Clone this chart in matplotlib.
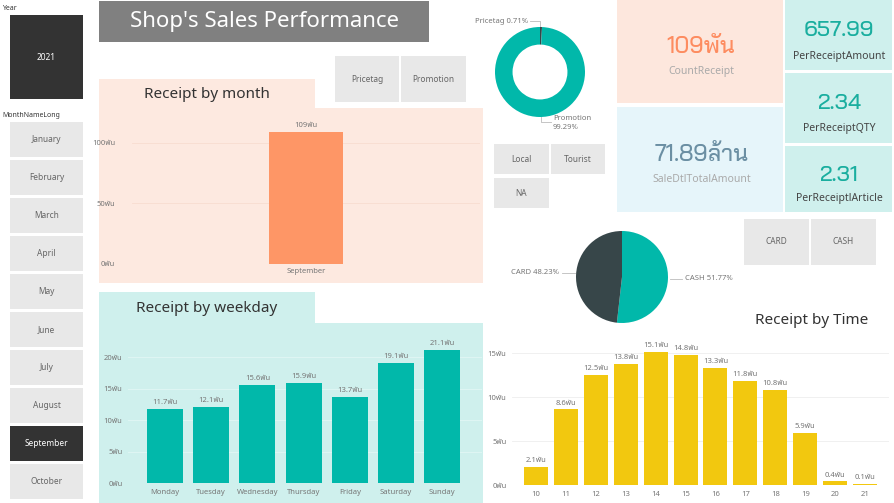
"""Shop's Sales Performance dashboard, rebuilt as a single matplotlib figure."""

import matplotlib
matplotlib.use("Agg")
import matplotlib.pyplot as plt
from matplotlib import font_manager
from matplotlib.patches import Rectangle

# ---- data -------------------------------------------------------------
year = "2021"
months = ["January", "February", "March", "April", "May",
          "June", "July", "August", "September", "October"]
selected_month = "September"

month_cats = ["September"]
month_receipts = [109]          # thousands

weekdays = ["Monday", "Tuesday", "Wednesday", "Thursday",
            "Friday", "Saturday", "Sunday"]
weekday_receipts = [11.7, 12.1, 15.6, 15.9, 13.7, 19.1, 21.1]

hours = ["10", "11", "12", "13", "14", "15", "16", "17", "18", "19", "20", "21"]
hour_receipts = [2.1, 8.6, 12.5, 13.8, 15.1, 14.8, 13.3, 11.8, 10.8, 5.9, 0.4, 0.1]

price_types = ["Pricetag", "Promotion"]
price_share = [0.71, 99.29]

pay_types = ["CASH", "CARD"]
pay_share = [51.77, 48.23]

kpi_count = "109พัน"
kpi_total = "71.89ล้าน"
kpi_amount = "657.99"
kpi_qty = "2.34"
kpi_article = "2.31"

# ---- fonts ------------------------------------------------------------
names = {f.name for f in font_manager.fontManager.ttflist}
thai = next((n for n in ["Noto Sans Thai", "Noto Sans Thai UI", "Sarabun",
                         "Prompt", "Kanit", "Bai Jamjuree"] if n in names),
            "DejaVu Sans")
kpi_font = "Bai Jamjuree" if "Bai Jamjuree" in names else thai
plt.rcParams["font.family"] = ["Noto Sans", thai, "DejaVu Sans"]

# ---- colours ----------------------------------------------------------
TEAL = "#01B8AA"
DARK = "#374649"
ORANGE = "#FE9666"
YELLOW = "#F2C80F"
PEACH = "#FDE9E0"
MINT = "#CFF0ED"
SKY = "#E6F5FA"
BTN = "#E8E8E8"
SEL = "#333333"
GREY_TXT = "#777777"

W, H = 894, 503
fig = plt.figure(figsize=(W / 100, H / 100), dpi=100)


def rect(x, y, w, h):
    """Pixel box (top-left origin) -> figure fraction rect."""
    return [x / W, 1 - (y + h) / H, w / W, h / H]


bg = fig.add_axes([0, 0, 1, 1], zorder=0)
bg.set_xlim(0, W)
bg.set_ylim(H, 0)
bg.axis("off")


def box(x, y, w, h, color, label=None, tcolor="#666666", size=6):
    bg.add_patch(Rectangle((x, y), w, h, facecolor=color, edgecolor="none"))
    if label:
        bg.text(x + w / 2, y + h / 2, label, ha="center", va="center",
                color=tcolor, fontsize=size)


# ---- slicers ----------------------------------------------------------
bg.text(2, 8, "Year", fontsize=5, color="#333333", va="center")
box(10, 15, 73, 84, SEL, year, "white", 6)
bg.text(2, 115, "MonthNameLong", fontsize=5, color="#333333", va="center")
for i, m in enumerate(months):
    on = m == selected_month
    box(10, 122 + 38 * i, 73, 35, SEL if on else BTN, m,
        "white" if on else "#666666", 6)

# title
box(99, 1, 330, 41, "#808080")
bg.text(264, 21, "Shop's Sales Performance", ha="center", va="center",
        color="white", fontsize=16, fontweight="light")

box(335, 56, 64, 46, BTN, price_types[0])
box(401, 56, 65, 46, BTN, price_types[1])
box(494, 144, 55, 30, BTN, "Local")
box(551, 144, 54, 30, BTN, "Tourist")
box(494, 178, 55, 30, BTN, "NA")
box(744, 219, 65, 46, BTN, "CARD")
box(811, 219, 65, 46, BTN, "CASH")

# panels
box(99, 79, 216, 30, PEACH)
box(99, 108, 384, 175, PEACH)
bg.text(207, 94, "Receipt by month", ha="center", va="center",
        fontsize=11, color="#333333")
box(99, 292, 216, 32, MINT)
box(99, 323, 384, 180, MINT)
bg.text(207, 308, "Receipt by weekday", ha="center", va="center",
        fontsize=11, color="#333333")
bg.text(812, 321, "Receipt by Time", ha="center", va="center",
        fontsize=11, color="#333333")

# KPI cards
box(617, 0, 166, 103, "#FDE7DD")
bg.text(701, 47, kpi_count, ha="center", va="center", fontsize=16.5,
        color="#FD8C60", family=[kpi_font, thai], fontweight="medium")
bg.text(701, 71, "CountReceipt", ha="center", va="center", fontsize=7.5,
        color="#AAAAAA")
box(617, 107, 166, 105, SKY)
bg.text(702, 155, kpi_total, ha="center", va="center", fontsize=16.5,
        color="#6B8FA3", family=[kpi_font, thai], fontweight="medium")
bg.text(702, 180, "SaleDtlTotalAmount", ha="center", va="center", fontsize=7.5,
        color="#AAAAAA")
for (y0, h0, val, lab) in [(0, 70, kpi_amount, "PerReceiptAmount"),
                           (73, 70, kpi_qty, "PerReceiptQTY"),
                           (146, 66, kpi_article, "PerReceiptlArticle")]:
    box(785, y0, 107, h0, MINT)
    bg.text(839, y0 + h0 * 0.44, val, ha="center", va="center", fontsize=16,
            color="#1AAE9F", family=[kpi_font, thai], fontweight="medium")
    bg.text(839, y0 + h0 * 0.80, lab, ha="center", va="center", fontsize=7.5,
            color="#444444")


# ---- bar charts -------------------------------------------------------
def bar_axes(pos, cats, vals, color, ymax, ticks, width, xlim, tpad, xpad, grid):
    ax = fig.add_axes(rect(*pos), zorder=2)
    ax.set_facecolor("none")
    x = range(len(cats))
    ax.bar(x, vals, width=width, color=color, zorder=2)
    for xi, v in zip(x, vals):
        ax.text(xi, v + ymax * 0.02, f"{v:g}พัน", ha="center", va="bottom",
                fontsize=5.5, color=GREY_TXT)
    ax.set_xlim(*xlim)
    ax.set_ylim(0, ymax)
    ax.set_yticks(ticks)
    ax.set_yticklabels([f"{t:g}พัน" for t in ticks])
    ax.set_xticks(list(x))
    ax.set_xticklabels(cats)
    ax.grid(axis="y", color=grid, linewidth=0.6, zorder=0)
    for s in ax.spines.values():
        s.set_visible(False)
    ax.tick_params(axis="y", length=0, pad=tpad, labelsize=5.5, labelcolor=GREY_TXT)
    ax.tick_params(axis="x", length=0, pad=xpad, labelsize=5.5, labelcolor=GREY_TXT)
    return ax


bar_axes((132, 120, 348, 144), month_cats, month_receipts, ORANGE, 119,
         [0, 50, 100], 0.21, (-0.5, 0.5), 12, 3, "#F8DCD0")
bar_axes((128, 340, 354, 143), weekdays, weekday_receipts, TEAL, 22.7,
         [0, 5, 10, 15, 20], 0.78, (-0.8, 6.86), 4, 4, "#E2F7F5")
bar_axes((512, 340, 377, 145), hours, hour_receipts, YELLOW, 16.5,
         [0, 5, 10, 15], 0.8, (-0.8, 11.8), 4, 4, "#EEEEEE")

# ---- donut & pie ------------------------------------------------------
ax_d = fig.add_axes(rect(495, 27, 90, 90), zorder=2)
ax_d.pie(price_share, colors=[DARK, TEAL], startangle=90, counterclock=False,
         wedgeprops=dict(width=0.39, edgecolor="none"))
ax_d.set_xlim(-1, 1)
ax_d.set_ylim(-1, 1)
bg.plot([530, 540, 540], [21, 21, 27], color="#BBBBBB", lw=0.6)
bg.text(528, 21, f"{price_types[0]} {price_share[0]:.2f}%", ha="right",
        va="center", fontsize=5.5, color=GREY_TXT)
bg.plot([541, 541, 551], [117, 122, 122], color="#BBBBBB", lw=0.6)
bg.text(553, 118, price_types[1], ha="left", va="center", fontsize=5.5,
        color=GREY_TXT)
bg.text(553, 127, f"{price_share[1]:.2f}%", ha="left", va="center",
        fontsize=5.5, color=GREY_TXT)

ax_p = fig.add_axes(rect(576, 231, 92, 92), zorder=2)
ax_p.pie(pay_share, colors=[TEAL, DARK], startangle=90, counterclock=False,
         wedgeprops=dict(edgecolor="none"))
ax_p.set_xlim(-1, 1)
ax_p.set_ylim(-1, 1)
bg.plot([562, 575], [273, 273], color="#BBBBBB", lw=0.6)
bg.text(559, 273, f"{pay_types[1]} {pay_share[1]:.2f}%", ha="right",
        va="center", fontsize=5.5, color=GREY_TXT)
bg.plot([670, 682], [279, 279], color="#BBBBBB", lw=0.6)
bg.text(685, 279, f"{pay_types[0]} {pay_share[0]:.2f}%", ha="left",
        va="center", fontsize=5.5, color=GREY_TXT)

fig.savefig("out.png", dpi=100)
